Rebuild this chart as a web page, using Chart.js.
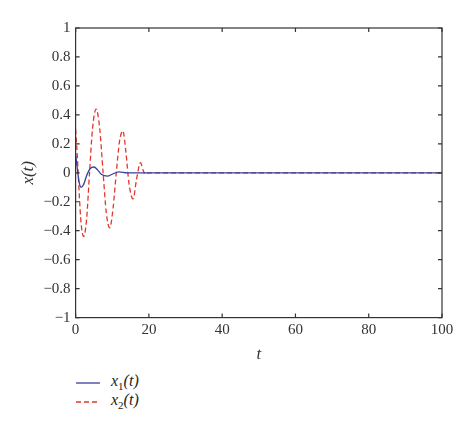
<!DOCTYPE html>
<html>
<head>
<meta charset="utf-8">
<script src="https://cdn.jsdelivr.net/npm/chart.js@4/dist/chart.umd.min.js"></script>
<style>
  body { margin: 0; background: #fff; width: 474px; height: 430px; overflow: hidden; }
  .wrap { position: relative; width: 474px; height: 365px; }
  .legend { position: absolute; left: 76px; top: 373px; font-family: "Liberation Serif", serif; font-style: italic; font-size: 16px; color: #222; }
  .legend div { height: 19px; display: flex; align-items: center; }
  .legend svg { margin-right: 11px; }
</style>
</head>
<body>
<div class="wrap"><canvas id="chart"></canvas></div>
<div class="legend">
  <div><svg width="24" height="4"><line id="ln1" x1="0" y1="2" x2="24" y2="2" stroke-width="1.3"/></svg><span>x<sub style="font-size:11px;font-style:normal">1</sub>(t)</span></div>
  <div><svg width="24" height="4"><line id="ln2" x1="0" y1="2" x2="24" y2="2" stroke-width="1.3" stroke-dasharray="5 3"/></svg><span>x<sub style="font-size:11px;font-style:normal">2</sub>(t)</span></div>
</div>
<script>
// values
const tX1 = [0, 0.5, 1, 1.5, 2.2, 3, 4, 5, 6, 7, 8.7, 10, 11.8, 14, 20, 40, 60, 80, 100];
const x1  = [0.13, 0.02, -0.07, -0.10, -0.08, -0.02, 0.03, 0.04, 0.02, -0.01, -0.023, -0.01, 0.007, 0, 0, 0, 0, 0, 0];
const tX2 = [0, 0.5, 1, 1.5, 2.2, 3, 3.8, 4.6, 5.6, 6.6, 7.5, 8.4, 9.3, 10.2, 11.1, 12, 12.9, 13.7, 14.6, 15.7, 16.6, 17.7, 18.4, 19, 20, 40, 60, 80, 100];
const x2  = [0.30, 0.10, -0.15, -0.35, -0.44, -0.32, 0, 0.30, 0.44, 0.30, 0, -0.28, -0.38, -0.25, 0, 0.22, 0.29, 0.15, -0.08, -0.18, -0.05, 0.07, 0.02, -0.01, 0, 0, 0, 0, 0];
const xTicks = [0, 20, 40, 60, 80, 100];
const yTicks = [-1, -0.8, -0.6, -0.4, -0.2, 0, 0.2, 0.4, 0.6, 0.8, 1];

const blue = '#3b3f9e';
const red = '#e5352b';
const axisColor = '#333';
const serif = "'Liberation Serif', 'DejaVu Serif', serif";

document.getElementById('ln1').setAttribute('stroke', blue);
document.getElementById('ln2').setAttribute('stroke', red);

function pts(xs, ys) {
    return xs.map((t, i) => ({ x: t, y: ys[i] }));
}

function fmt(v) {
    let s = String(Math.round(v * 10) / 10);
    return s.replace('-', '\u2212');
}

// box round the plot + ticks pointing inward
const frame = {
    id: 'frame',
    afterDraw(chart) {
        const { ctx, chartArea: a, scales } = chart;
        ctx.save();
        ctx.strokeStyle = axisColor;
        ctx.lineWidth = 1.2;
        ctx.strokeRect(a.left, a.top, a.right - a.left, a.bottom - a.top);
        ctx.beginPath();
        xTicks.forEach(v => {
            const p = scales.x.getPixelForValue(v);
            ctx.moveTo(p, a.bottom); ctx.lineTo(p, a.bottom - 4);
            ctx.moveTo(p, a.top); ctx.lineTo(p, a.top + 4);
        });
        yTicks.forEach(v => {
            const p = scales.y.getPixelForValue(v);
            ctx.moveTo(a.left, p); ctx.lineTo(a.left + 4, p);
            ctx.moveTo(a.right, p); ctx.lineTo(a.right - 4, p);
        });
        ctx.stroke();
        ctx.restore();
    }
};

const tickFont = { family: serif, size: 15 };

new Chart(document.getElementById('chart'), {
    type: 'line',
    data: {
        datasets: [{
            label: 'x1(t)',
            data: pts(tX1, x1),
            borderColor: blue,
            borderWidth: 1.3,
            pointRadius: 0,
            cubicInterpolationMode: 'monotone'
        }, {
            label: 'x2(t)',
            data: pts(tX2, x2),
            borderColor: red,
            borderWidth: 1.3,
            borderDash: [5, 3],
            pointRadius: 0,
            cubicInterpolationMode: 'monotone'
        }]
    },
    options: {
        responsive: true,
        maintainAspectRatio: false,
        animation: false,
        layout: { padding: { left: 18, right: 32, top: 28, bottom: 0 } },
        plugins: { legend: { display: false }, tooltip: { enabled: false } },
        scales: {
            x: {
                type: 'linear',
                min: 0, max: 100,
                afterBuildTicks: s => { s.ticks = xTicks.map(v => ({ value: v })); },
                grid: { display: false, drawTicks: false },
                border: { display: false },
                ticks: { color: axisColor, font: tickFont, padding: 3, maxRotation: 0 },
                title: { display: true, text: 't', color: axisColor, font: { family: serif, size: 17, style: 'italic' }, padding: { top: 3, bottom: 0 } }
            },
            y: {
                min: -1, max: 1,
                afterBuildTicks: s => { s.ticks = yTicks.map(v => ({ value: v })); },
                grid: { display: false, drawTicks: false },
                border: { display: false },
                ticks: { color: axisColor, font: tickFont, padding: 5, callback: v => fmt(v) },
                title: { display: true, text: 'x(t)', color: axisColor, font: { family: serif, size: 17, style: 'italic' }, padding: { top: 0, bottom: 0 } }
            }
        }
    },
    plugins: [frame]
});
</script>
</body>
</html>
